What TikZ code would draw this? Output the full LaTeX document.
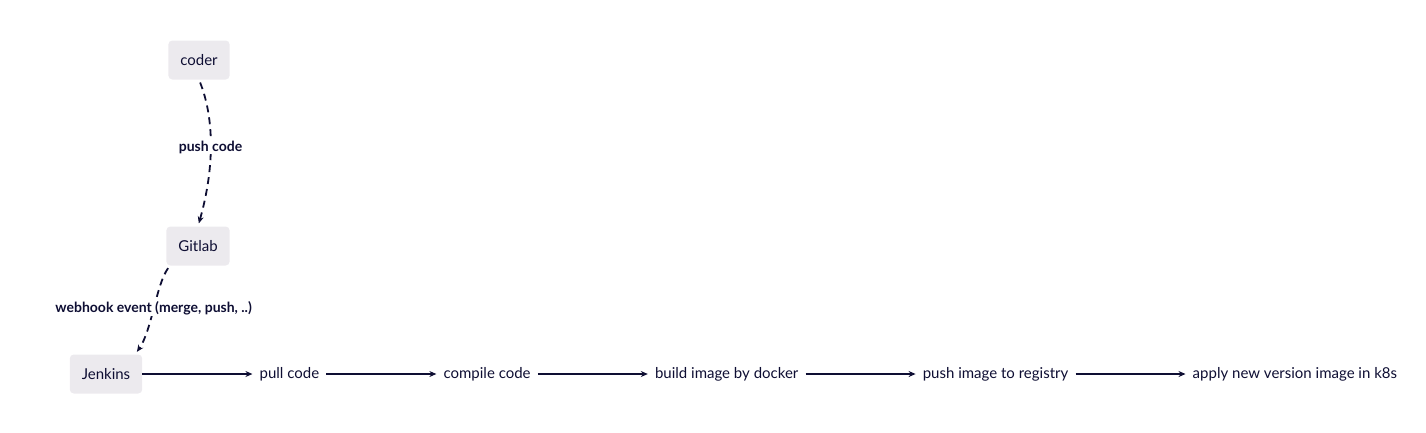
\documentclass[tikz,border=0pt]{standalone}
\usepackage{fontspec}
\setmainfont{Lato}
\usepackage{xcolor}
\usetikzlibrary{positioning, arrows.meta}
\definecolor{ink}{HTML}{0E0E33}
\definecolor{boxgray}{HTML}{ECEAEE}
\tikzset{
  actor/.style={fill=boxgray, rounded corners=4pt, minimum height=39pt, inner xsep=12pt, text=ink, font=\fontsize{15}{17}\selectfont},
  stage/.style={inner xsep=7pt, inner ysep=4pt, text=ink, font=\fontsize{15}{17}\selectfont},
  flow/.style={draw=ink, line width=1.8pt, -{Stealth[length=7pt, width=6pt]}},
  hook/.style={flow, dash pattern=on 7pt off 5pt, shorten <=3pt, shorten >=3pt},
  tag/.style={fill=white, inner sep=1pt, text=ink, font=\bfseries\fontsize{14}{16}\selectfont}
}
\begin{document}
\begin{tikzpicture}[x=1pt, y=-1pt]
			\path[use as bounding box] (0,0) rectangle (1426,432);
			\node[actor] (coder) at (199,60) {coder};
			\node[actor] (gitlab) at (198,246) {Gitlab};
			\node[actor] (jenkins) at (106,374) {Jenkins};
			\node[stage, right = 110pt of jenkins] (pull) {pull code};
			\node[stage, right = 110pt of pull] (compile) {compile code};
			\node[stage, right = 110pt of compile] (build) {build image by docker};
			\node[stage, right = 110pt of build] (push) {push image to registry};
			\node[stage, right = 110pt of push] (apply) {apply new version image in k8s};
			\draw[hook] (coder.south) .. controls (215,120) and (214,170) .. node[tag, pos=0.5]{push code} (gitlab.north);
			\draw[hook] (gitlab.-145) .. controls (156,285) and (152,330) .. node[tag, pos=0.5]{webhook event (merge, push, ..)} (jenkins.34);
			\draw[flow] (jenkins) -- (pull);
			\draw[flow] (pull) -- (compile);
			\draw[flow] (compile) -- (build);
			\draw[flow] (build) -- (push);
			\draw[flow] (push) -- (apply);
		\end{tikzpicture}
\end{document}
